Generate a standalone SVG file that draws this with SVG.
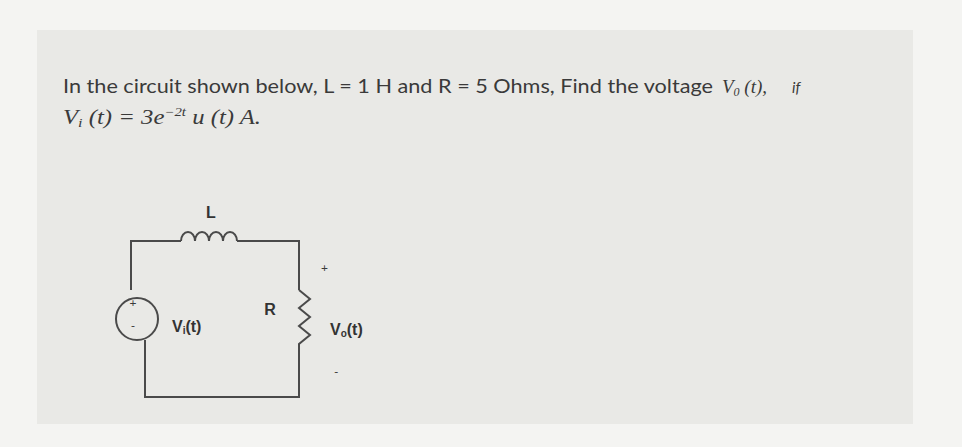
<svg xmlns="http://www.w3.org/2000/svg" width="962" height="447" viewBox="0 0 962 447">
<style>
.w{fill:none;stroke:#4a4a4a;stroke-width:2}
.t{font-family:Lato,"Liberation Sans",sans-serif;fill:#3a3a3a}
.m{font-family:"Liberation Serif",serif;font-style:italic;fill:#3a3a3a}
.b{font-family:"Liberation Sans",sans-serif;font-weight:bold;fill:#333;font-size:16px}
</style>
<rect width="962" height="447" fill="#f4f4f2"/>
<rect x="37" y="30" width="876" height="394" fill="#e9e9e6"/>
<text class="t" x="63" y="93" font-size="20" textLength="650" lengthAdjust="spacingAndGlyphs">In the circuit shown below,  L = 1 H  and R = 5 Ohms, Find the voltage</text>
<text class="m" x="722" y="93" font-size="19">V<tspan font-size="12" dy="3">0</tspan><tspan dy="-3"> (t),</tspan></text>
<text class="t" x="792" y="93" font-size="15" font-style="italic">if</text>
<text class="m" x="63" y="124" font-size="20" textLength="198" lengthAdjust="spacingAndGlyphs">V<tspan font-size="13" dy="3">i</tspan><tspan dy="-3"> (t) = 3e</tspan><tspan font-size="12" dy="-8">−2t</tspan><tspan dy="8"> u (t)  A.</tspan></text>
<g id="connectors">
<path class="w" d="M131 290 V241 H181"/>
<path class="w" d="M181 241 a7 9 0 0 1 14 0 a7 9 0 0 1 14 0 a7 9 0 0 1 14 0 a7 9 0 0 1 14 0"/>
<path class="w" d="M237 241 H299 V290"/>
<path class="w" d="M299 290 l11 9 l-11 9 l11 9 l-11 9 l11 9 l-11 9 V397 H145 V340"/>
</g>
<g id="source">
<circle class="w" cx="137" cy="319" r="21"/>
<text class="t" x="133" y="307" font-size="12" text-anchor="middle">+</text>
<text class="t" x="133" y="330" font-size="12" text-anchor="middle">-</text>
</g>
<g id="labels">
<text class="b" x="211" y="218" text-anchor="middle">L</text>
<text class="b" x="172" y="332">V<tspan font-size="10" dy="2">i</tspan><tspan dy="-2">(t)</tspan></text>
<text class="b" x="270" y="315" text-anchor="middle">R</text>
<text class="b" x="330" y="335">V<tspan font-size="10" dy="2">o</tspan><tspan dy="-2">(t)</tspan></text>
<text class="t" x="321" y="272" font-size="12">+</text>
<text class="t" x="334" y="376" font-size="12">-</text>
</g>
</svg>
